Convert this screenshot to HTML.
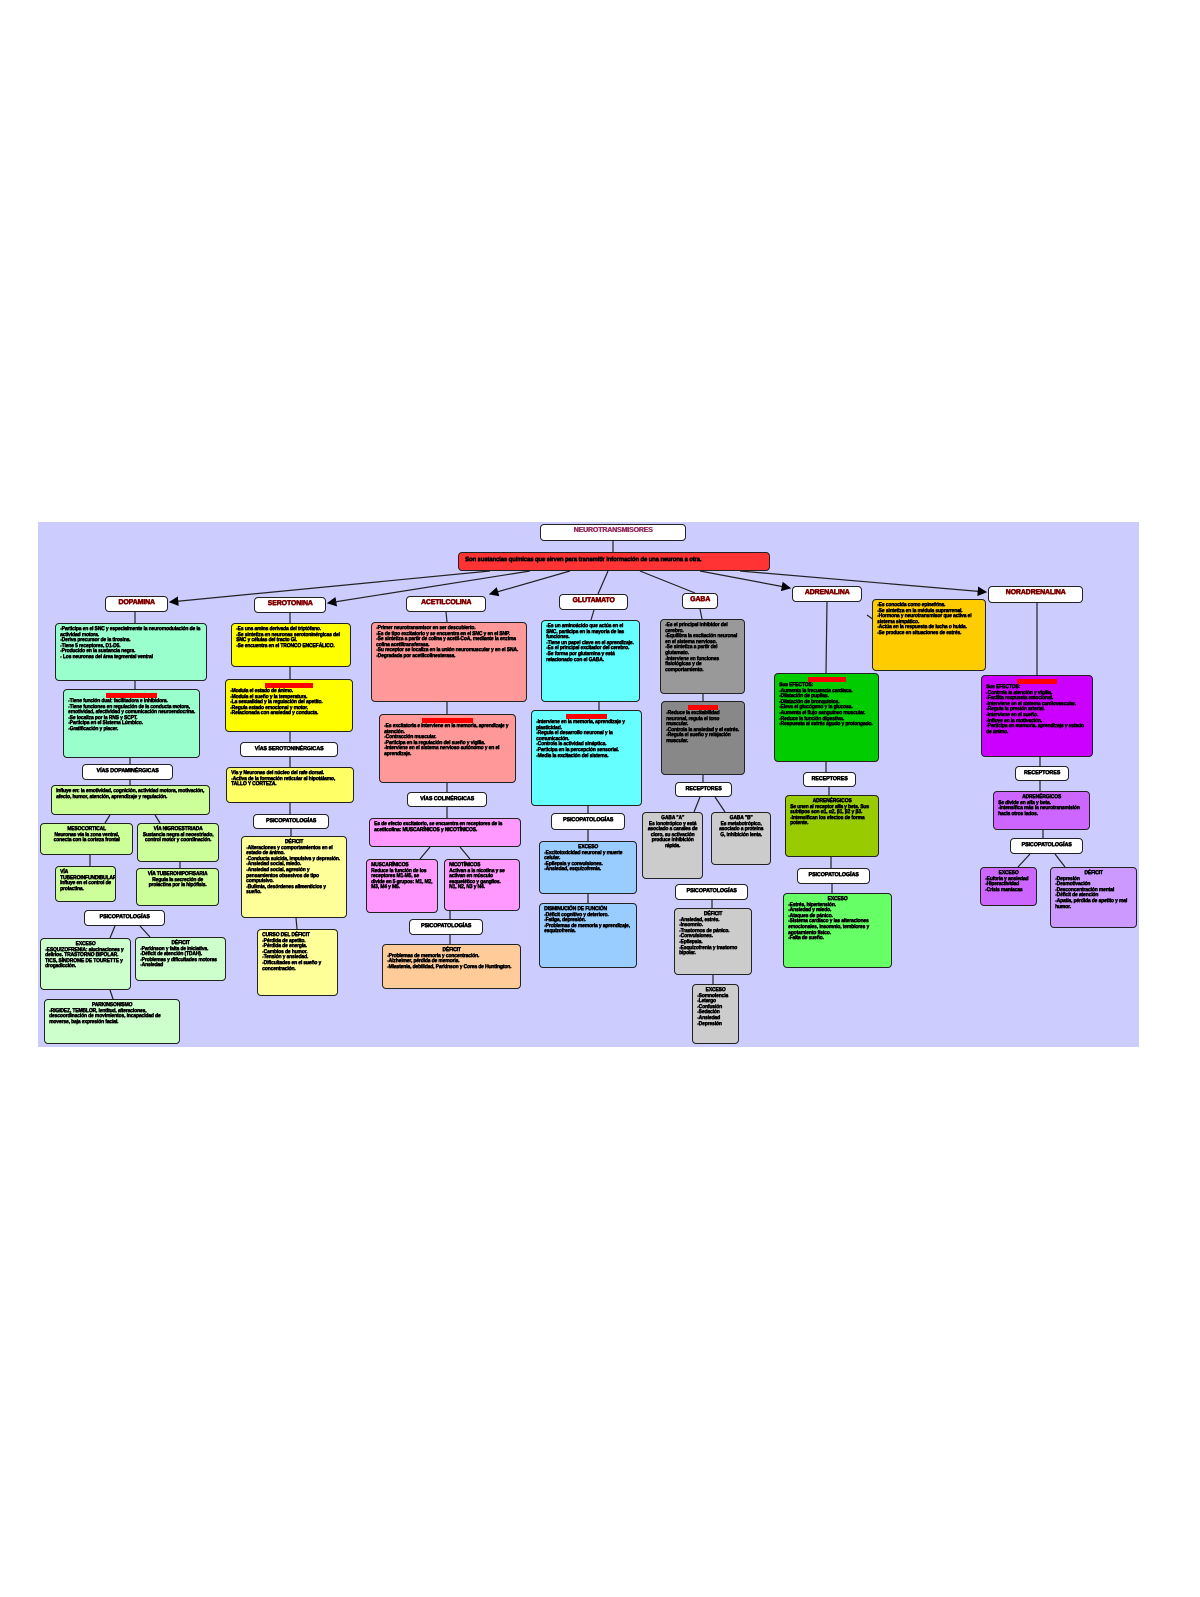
<!DOCTYPE html>
<html><head><meta charset="utf-8"><style>
body{margin:0;width:1200px;height:1597px;background:#fff;position:relative;overflow:hidden;font-family:"Liberation Sans",sans-serif}
#bg{position:absolute;left:38px;top:522px;width:1101px;height:525px;background:#ccccff}
.b{position:absolute;box-sizing:border-box;border:1.3px solid #222;border-radius:4px;font-size:5px;line-height:5.6px;font-weight:900;color:#000;padding:3px 4px;overflow:hidden;letter-spacing:-0.15px;text-shadow:0.4px 0 0 #000,0 0.3px 0 #000}
.h{background:#fff;text-align:center;font-size:7px;line-height:12px;padding:0;color:#800000;font-weight:900;border-radius:4px;border-width:1.5px;text-shadow:0.5px 0 0 #800000,0 0.4px 0 #800000}
.w{background:#fff;text-align:center;font-size:5.5px;line-height:12px;padding:0;border-radius:4px}
.r{display:block;background:#ff0000;width:40%;margin:0 auto 1px;height:5px}
svg{position:absolute;left:0;top:0}
</style></head><body>
<div id="bg"></div>
<svg width="1200" height="1597">
<defs><marker id="a" markerWidth="8" markerHeight="8" refX="7" refY="4" orient="auto"><path d="M0,0L8,4L0,8z" fill="#000"/></marker></defs>
<g stroke="#222" stroke-width="1.2" fill="none">
<line x1="613" y1="541" x2="613" y2="552"/>
<line x1="490" y1="571" x2="170" y2="602" marker-end="url(#a)"/>
<line x1="530" y1="571" x2="328" y2="603" marker-end="url(#a)"/>
<line x1="570" y1="571" x2="490" y2="594" marker-end="url(#a)"/>
<line x1="608" y1="571" x2="598" y2="594"/>
<line x1="640" y1="571" x2="695" y2="593"/>
<line x1="700" y1="571" x2="790" y2="588" marker-end="url(#a)"/>
<line x1="740" y1="571" x2="986" y2="592" marker-end="url(#a)"/>
<line x1="135" y1="612" x2="135" y2="623"/><line x1="135" y1="681" x2="135" y2="689"/><line x1="130" y1="758" x2="130" y2="764"/><line x1="130" y1="780" x2="130" y2="785"/>
<line x1="110" y1="815" x2="105" y2="823"/><line x1="155" y1="815" x2="160" y2="823"/><line x1="90" y1="855" x2="90" y2="866"/><line x1="180" y1="862" x2="180" y2="868"/>
<line x1="115" y1="926" x2="110" y2="938"/><line x1="140" y1="926" x2="150" y2="937"/><line x1="110" y1="990" x2="113" y2="999"/>
<line x1="290" y1="613" x2="290" y2="623"/><line x1="290" y1="667" x2="290" y2="679"/><line x1="290" y1="732" x2="290" y2="742"/><line x1="290" y1="757" x2="290" y2="767"/><line x1="290" y1="803" x2="290" y2="814"/><line x1="291" y1="829" x2="291" y2="836"/><line x1="296" y1="918" x2="297" y2="929"/>
<line x1="446" y1="612" x2="447" y2="622"/><line x1="447" y1="702" x2="447" y2="714"/><line x1="447" y1="783" x2="447" y2="792"/><line x1="447" y1="807" x2="447" y2="818"/><line x1="430" y1="847" x2="420" y2="859"/><line x1="460" y1="847" x2="470" y2="859"/><line x1="450" y1="911" x2="450" y2="919"/><line x1="450" y1="935" x2="450" y2="944"/>
<line x1="594" y1="610" x2="591" y2="620"/><line x1="599" y1="702" x2="599" y2="710"/><line x1="588" y1="806" x2="588" y2="813"/><line x1="588" y1="830" x2="588" y2="841"/><line x1="588" y1="894" x2="588" y2="903"/>
<line x1="700" y1="609" x2="702" y2="619"/><line x1="703" y1="694" x2="703" y2="701"/><line x1="703" y1="775" x2="703" y2="782"/><line x1="700" y1="797" x2="694" y2="812"/><line x1="715" y1="797" x2="725" y2="812"/><line x1="712" y1="900" x2="712" y2="908"/><line x1="713" y1="975" x2="713" y2="984"/>
<line x1="827" y1="602" x2="826" y2="673"/><line x1="867" y1="615" x2="874" y2="620"/><line x1="826" y1="762" x2="826" y2="772"/><line x1="829" y1="787" x2="829" y2="795"/><line x1="831" y1="857" x2="831" y2="868"/><line x1="832" y1="884" x2="832" y2="893"/>
<line x1="1037" y1="603" x2="1037" y2="675"/><line x1="1040" y1="757" x2="1040" y2="766"/><line x1="1040" y1="781" x2="1040" y2="791"/><line x1="1043" y1="830" x2="1043" y2="838"/><line x1="1030" y1="854" x2="1018" y2="867"/><line x1="1055" y1="854" x2="1065" y2="867"/>
</g></svg>

<div class="b h" style="left:540px;top:524px;width:146px;height:17px;color:#993366;text-shadow:0.5px 0 0 #993366">NEUROTRANSMISORES</div>
<div class="b" style="left:458px;top:552px;width:312px;height:19px;background:#ff3333;font-size:6px;line-height:12px;padding:1px 6px;border-radius:4px">Son sustancias químicas que sirven para transmitir información de una neurona a otra.</div>

<div class="b h" style="left:105px;top:596px;width:63px;height:16px">DOPAMINA</div>
<div class="b h" style="left:254px;top:597px;width:72px;height:16px">SEROTONINA</div>
<div class="b h" style="left:406px;top:596px;width:80px;height:16px">ACETILCOLINA</div>
<div class="b h" style="left:559px;top:594px;width:69px;height:16px">GLUTAMATO</div>
<div class="b h" style="left:682px;top:593px;width:36px;height:16px">GABA</div>
<div class="b h" style="left:792px;top:586px;width:70px;height:16px">ADRENALINA</div>
<div class="b h" style="left:988px;top:586px;width:95px;height:17px">NORADRENALINA</div>

<div class="b" style="left:55px;top:623px;width:152px;height:58px;background:#99ffcc">-Participa en el SNC y especialmente la neuromodulación de la actividad motora.<br>-Deriva precursor de la tirosina.<br>-Tiene 5 receptores, D1-D5.<br>-Producido en la sustancia negra.<br>- Los neuronas del área tegmental ventral</div>
<div class="b" style="left:63px;top:689px;width:137px;height:69px;background:#99ffcc"><span class="r"></span>-Tiene función dual: facilitadora e inhibidora.<br>-Tiene funciones en regulación de la conducta motora, emotividad, afectividad y comunicación neuroendocrina.<br>-Se localiza por la RNS y SCPT.<br>-Participa en el Sistema Lúmbico.<br>-Gratificación y placer.</div>
<div class="b w" style="left:82px;top:764px;width:91px;height:16px">VÍAS DOPAMINÉRGICAS</div>
<div class="b" style="left:51px;top:785px;width:159px;height:30px;background:#ccff99">Influye en: la emotividad, cognición, actividad motora, motivación, afecto, humor, atención, aprendizaje y regulación.</div>
<div class="b" style="left:40px;top:823px;width:93px;height:32px;background:#ccff99;text-align:center">MESOCORTICAL<br>Neuronas vía la zona ventral, conecta con la corteza frontal</div>
<div class="b" style="left:137px;top:823px;width:82px;height:39px;background:#ccff99;text-align:center">VÍA NIGROESTRIADA<br>Sustancia negra al neoestriado, control motor y coordinación.</div>
<div class="b" style="left:55px;top:866px;width:61px;height:36px;background:#ccff99">VÍA TUBEROINFUNDIBULAR<br>Influye en el control de prolactina.</div>
<div class="b" style="left:136px;top:868px;width:83px;height:38px;background:#ccff99;text-align:center">VÍA TUBEROHIPOFISARIA<br>Regula la secreción de prolactina por la hipófisis.</div>
<div class="b w" style="left:84px;top:910px;width:81px;height:16px">PSICOPATOLOGÍAS</div>
<div class="b" style="left:40px;top:938px;width:91px;height:52px;background:#ccffcc"><center>EXCESO</center>-ESQUIZOFRENIA: alucinaciones y delirios. TRASTORNO BIPOLAR. TICS, SÍNDROME DE TOURETTE y drogadicción.</div>
<div class="b" style="left:135px;top:937px;width:91px;height:44px;background:#ccffcc"><center>DÉFICIT</center>-Parkinson y falta de iniciativa.<br>-Déficit de atención (TDAH).<br>-Problemas y dificultades motoras<br>-Ansiedad</div>
<div class="b" style="left:44px;top:999px;width:136px;height:45px;background:#ccffcc"><center>PARKINSONISMO</center>-RIGIDEZ, TEMBLOR, lentitud, alteraciones, descoordinación de movimientos, incapacidad de moverse, baja expresión facial.</div>

<div class="b" style="left:231px;top:623px;width:120px;height:44px;background:#ffff00">-Es una amina derivada del triptófano.<br>-Se sintetiza en neuronas serotoninérgicas del SNC y células del tracto GI.<br>-Se encuentra en el TRONCO ENCEFÁLICO.</div>
<div class="b" style="left:225px;top:679px;width:128px;height:53px;background:#ffff00"><span class="r"></span>-Modula el estado de ánimo.<br>-Modula el sueño y la temperatura.<br>-La sexualidad y la regulación del apetito.<br>-Regula estado emocional y motor.<br>-Relacionada con ansiedad y conducta.</div>
<div class="b w" style="left:240px;top:742px;width:98px;height:15px">VÍAS SEROTONINÉRGICAS</div>
<div class="b" style="left:226px;top:767px;width:128px;height:36px;background:#ffff66">Vía y Neuronas del núcleo del rafe dorsal.<br>-Activa de la formación reticular al hipotálamo, TALLO Y CORTEZA.</div>
<div class="b w" style="left:253px;top:814px;width:76px;height:15px">PSICOPATOLOGÍAS</div>
<div class="b" style="left:241px;top:836px;width:106px;height:82px;background:#ffff99"><center>DÉFICIT</center>-Alteraciones y comportamientos en el estado de ánimo.<br>-Conducta suicida, impulsiva y depresión.<br>-Ansiedad social, miedo.<br>-Ansiedad social, agresión y pensamientos obsesivos de tipo compulsivo.<br>-Bulimia, desórdenes alimenticios y sueño.</div>
<div class="b" style="left:257px;top:929px;width:81px;height:67px;background:#ffff99">CURSO DEL DÉFICIT<br>-Pérdida de apetito.<br>-Pérdida de energía.<br>-Cambios de humor.<br>-Tensión y ansiedad.<br>-Dificultades en el sueño y concentración.</div>

<div class="b" style="left:371px;top:622px;width:156px;height:80px;background:#ff9999">-Primer neurotransmisor en ser descubierto.<br>-Es de tipo excitatorio y se encuentra en el SNC y en el SNP.<br>-Se sintetiza a partir de colina y acetil-CoA, mediante la enzima colina acetiltransferasa.<br>-Su receptor se localiza en la unión neuromuscular y en el SNA.<br>-Degradada por acetilcolinesterasa.</div>
<div class="b" style="left:379px;top:714px;width:137px;height:69px;background:#ff9999"><span class="r"></span>-Es excitatoria e interviene en la memoria, aprendizaje y atención.<br>-Contracción muscular.<br>-Participa en la regulación del sueño y vigilia.<br>-Interviene en el sistema nervioso autónomo y en el aprendizaje.</div>
<div class="b w" style="left:407px;top:792px;width:80px;height:15px">VÍAS COLINÉRGICAS</div>
<div class="b" style="left:369px;top:818px;width:152px;height:29px;background:#ff99ff">Es de efecto excitatorio, se encuentra en receptores de la acetilcolina: MUSCARÍNICOS y NICOTÍNICOS.</div>
<div class="b" style="left:366px;top:859px;width:72px;height:54px;background:#ff99ff">MUSCARÍNICOS<br>Reduce la función de los receptores M1-M5, se divide en 5 grupos: M1, M2, M3, M4 y M5.</div>
<div class="b" style="left:444px;top:859px;width:76px;height:52px;background:#ff99ff">NICOTÍNICOS<br>Activan a la nicotina y se activan en músculo esquelético y ganglios.<br>N1, N2, N3 y N4.</div>
<div class="b w" style="left:409px;top:919px;width:74px;height:16px">PSICOPATOLOGÍAS</div>
<div class="b" style="left:382px;top:944px;width:139px;height:45px;background:#ffcc99"><center>DÉFICIT</center>-Problemas de memoria y concentración.<br>-Alzheimer, pérdida de memoria.<br>-Miastenia, debilidad, Parkinson y Corea de Huntington.</div>

<div class="b" style="left:541px;top:620px;width:99px;height:82px;background:#66ffff">-Es un aminoácido que actúa en el SNC, participa en la mayoría de las funciones.<br>-Tiene un papel clave en el aprendizaje.<br>-Es el principal excitador del cerebro.<br>-Se forma por glutamina y está relacionado con el GABA.</div>
<div class="b" style="left:531px;top:710px;width:111px;height:96px;background:#66ffff"><span class="r"></span>-Interviene en la memoria, aprendizaje y plasticidad.<br>-Regula el desarrollo neuronal y la comunicación.<br>-Controla la actividad sináptica.<br>-Participa en la percepción sensorial.<br>-Media la excitación del sistema.</div>
<div class="b w" style="left:551px;top:813px;width:74px;height:17px">PSICOPATOLOGÍAS</div>
<div class="b" style="left:539px;top:841px;width:98px;height:53px;background:#99ccff"><center>EXCESO</center>-Excitotoxicidad neuronal y muerte celular.<br>-Epilepsia y convulsiones.<br>-Ansiedad, esquizofrenia.</div>
<div class="b" style="left:539px;top:903px;width:98px;height:65px;background:#99ccff">DISMINUCIÓN DE FUNCIÓN<br>-Déficit cognitivo y deterioro.<br>-Fatiga, depresión.<br>-Problemas de memoria y aprendizaje, esquizofrenia.</div>

<div class="b" style="left:660px;top:619px;width:85px;height:75px;background:#999999">-Es el principal inhibidor del cerebro.<br>-Equilibra la excitación neuronal en el sistema nervioso.<br>-Se sintetiza a partir del glutamato.<br>-Interviene en funciones fisiológicas y de comportamiento.</div>
<div class="b" style="left:661px;top:701px;width:84px;height:74px;background:#888888"><span class="r"></span>-Reduce la excitabilidad neuronal, regula el tono muscular.<br>-Controla la ansiedad y el estrés.<br>-Regula el sueño y relajación muscular.</div>
<div class="b w" style="left:675px;top:782px;width:57px;height:15px">RECEPTORES</div>
<div class="b" style="left:642px;top:812px;width:61px;height:67px;background:#cccccc;text-align:center">GABA "A"<br>Es ionotrópico y está asociado a canales de cloro, su activación produce inhibición rápida.</div>
<div class="b" style="left:711px;top:812px;width:60px;height:53px;background:#cccccc;text-align:center">GABA "B"<br>Es metabotrópico, asociado a proteína G, inhibición lenta.</div>
<div class="b w" style="left:675px;top:884px;width:73px;height:16px">PSICOPATOLOGÍAS</div>
<div class="b" style="left:674px;top:908px;width:78px;height:67px;background:#cccccc"><center>DÉFICIT</center>-Ansiedad, estrés.<br>-Insomnio.<br>-Trastornos de pánico.<br>-Convulsiones.<br>-Epilepsia.<br>-Esquizofrenia y trastorno bipolar.</div>
<div class="b" style="left:692px;top:984px;width:47px;height:60px;background:#cccccc"><center>EXCESO</center>-Somnolencia<br>-Letargo<br>-Confusión<br>-Sedación<br>-Ansiedad<br>-Depresión</div>

<div class="b" style="left:872px;top:599px;width:114px;height:72px;background:#ffcc00">-Es conocida como epinefrina.<br>-Se sintetiza en la médula suprarrenal.<br>-Hormona y neurotransmisor que activa el sistema simpático.<br>-Actúa en la respuesta de lucha o huida.<br>-Se produce en situaciones de estrés.</div>
<div class="b" style="left:774px;top:673px;width:105px;height:89px;background:#00cc00"><span class="r"></span>Sus EFECTOS:<br>-Aumenta la frecuencia cardíaca.<br>-Dilatación de pupilas.<br>-Dilatación de bronquiolos.<br>-Eleva el glucógeno y la glucosa.<br>-Aumenta el flujo sanguíneo muscular.<br>-Reduce la función digestiva.<br>-Respuesta al estrés agudo y prolongado.</div>
<div class="b w" style="left:803px;top:772px;width:53px;height:15px">RECEPTORES</div>
<div class="b" style="left:785px;top:795px;width:94px;height:62px;background:#99cc00"><center>ADRENÉRGICOS</center>Se unen al receptor alfa y beta. Sus subtipos son α1, α2, β1, β2 y β3.<br>-Intensifican los efectos de forma potente.</div>
<div class="b w" style="left:797px;top:868px;width:73px;height:16px">PSICOPATOLOGÍAS</div>
<div class="b" style="left:783px;top:893px;width:109px;height:75px;background:#66ff66"><center>EXCESO</center>-Estrés, hipertensión.<br>-Ansiedad y miedo.<br>-Ataques de pánico.<br>-Sistema cardíaco y las alteraciones emocionales, insomnio, temblores y agotamiento físico.<br>-Falta de sueño.</div>

<div class="b" style="left:981px;top:675px;width:112px;height:82px;background:#cc00ff"><span class="r"></span>Sus EFECTOS:<br>-Controla la atención y vigilia.<br>-Facilita respuesta emocional.<br>-Interviene en el sistema cardiovascular.<br>-Regula la presión arterial.<br>-Interviene en el sueño.<br>-Influye en la motivación.<br>-Participa en memoria, aprendizaje y estado de ánimo.</div>
<div class="b w" style="left:1015px;top:766px;width:54px;height:15px">RECEPTORES</div>
<div class="b" style="left:993px;top:791px;width:97px;height:39px;background:#cc66ff"><center>ADRENÉRGICOS</center>Se divide en alfa y beta.<br>-Intensifica más la neurotransmisión hacia otros lados.</div>
<div class="b w" style="left:1010px;top:838px;width:73px;height:16px">PSICOPATOLOGÍAS</div>
<div class="b" style="left:980px;top:867px;width:57px;height:39px;background:#cc66ff"><center>EXCESO</center>-Euforia y ansiedad<br>-Hiperactividad<br>-Crisis maníacas</div>
<div class="b" style="left:1050px;top:867px;width:87px;height:61px;background:#cc99ff"><center>DÉFICIT</center>-Depresión<br>-Desmotivación<br>-Desconcentración mental<br>-Déficit de atención<br>-Apatía, pérdida de apetito y mal humor.</div>
</body></html>
